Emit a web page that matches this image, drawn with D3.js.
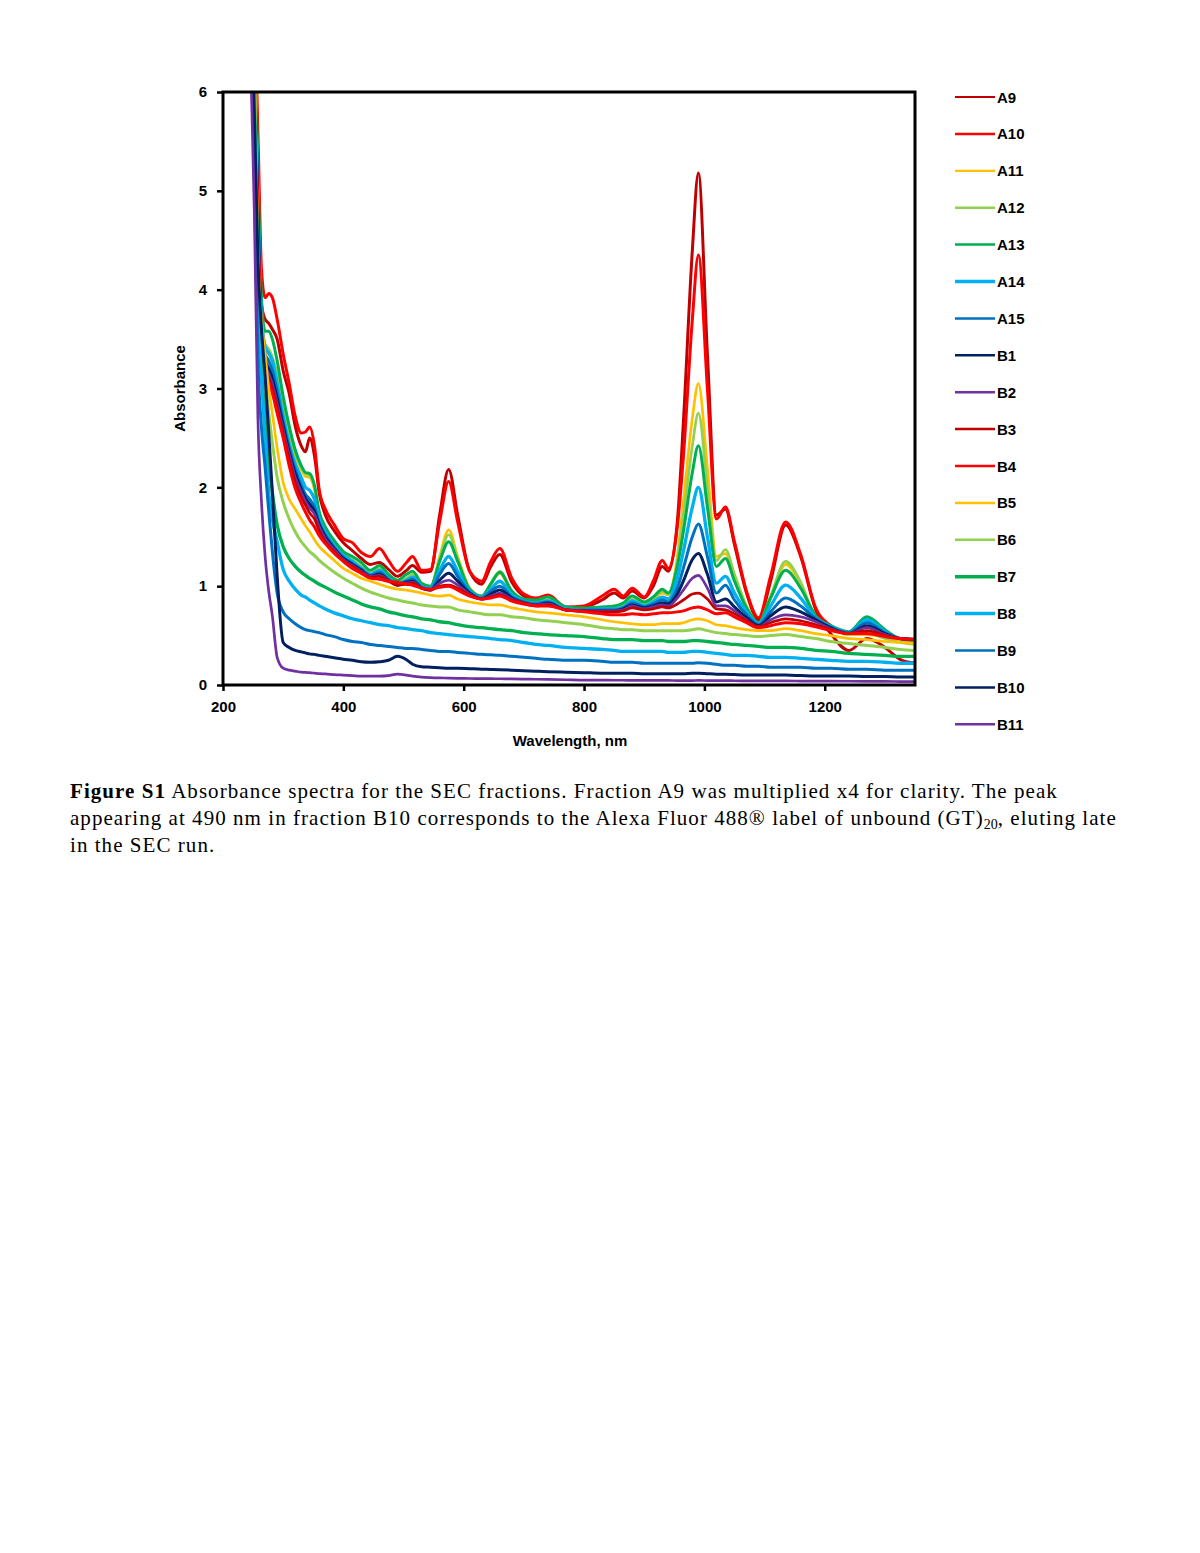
<!DOCTYPE html>
<html>
<head>
<meta charset="utf-8">
<script src="https://cdn.jsdelivr.net/npm/d3@7"></script>
<style>
  body { margin: 0; background: #fff; }
  .tick text { font-family: "Liberation Sans", Arial, sans-serif; font-weight: bold; font-size: 15px; }
</style>
</head>
<body>
<div class="container"></div>
<script>
const W = 1200
const H = 1553

// wavelength grid, nm (shared by all spectra)
const wavelengths = [
  245, 252, 258, 264, 270, 276, 282, 290, 300, 310,
  320, 330, 337, 344, 352, 360, 370, 385, 400, 415,
  430, 445, 460, 475, 490, 505, 515, 530, 545, 560,
  575, 590, 610, 630, 645, 660, 680, 700, 720, 740,
  770, 800, 830, 850, 865, 880, 900, 915, 930, 940,
  955, 965, 980, 990, 1005, 1020, 1035, 1050, 1070, 1090,
  1110, 1135, 1160, 1185, 1210, 1240, 1270, 1300, 1325, 1350
]

const a9 = [
  7.0, 6.6, 5.0, 3.85, 3.7, 3.66, 3.6, 3.5, 3.18, 2.95,
  2.62, 2.42, 2.36, 2.5, 2.32, 1.94, 1.72, 1.56, 1.44, 1.36,
  1.28, 1.22, 1.24, 1.17, 1.1, 1.16, 1.21, 1.14, 1.15, 1.72,
  2.18, 1.72, 1.15, 1.02, 1.2, 1.32, 1.04, 0.9, 0.86, 0.9,
  0.78, 0.79, 0.86, 0.93, 0.88, 0.95, 0.88, 1.0, 1.2, 1.15,
  1.65, 2.65, 4.4, 5.18, 3.35, 1.72, 1.78, 1.42, 0.93, 0.66,
  1.05, 1.62, 1.3, 0.76, 0.52, 0.35, 0.47, 0.38, 0.26, 0.22
]
const a10 = [
  7.0, 6.8, 5.6, 4.2, 3.92, 3.96, 3.92, 3.7, 3.35, 3.05,
  2.72, 2.55, 2.56, 2.61, 2.42, 1.97, 1.78, 1.62, 1.48, 1.44,
  1.34, 1.3, 1.38, 1.26, 1.15, 1.24, 1.3, 1.16, 1.17, 1.65,
  2.06, 1.65, 1.15, 1.05, 1.25, 1.38, 1.08, 0.92, 0.88, 0.91,
  0.79, 0.8, 0.9, 0.97, 0.9, 0.98, 0.89, 1.05, 1.26, 1.18,
  1.6, 2.3, 3.7, 4.35, 3.0, 1.68, 1.8, 1.45, 0.95, 0.68,
  1.1, 1.65, 1.32, 0.78, 0.6, 0.52, 0.52, 0.49, 0.47, 0.46
]
const a11 = [
  7.0, 6.6, 5.0, 3.75, 3.4, 3.35, 3.28, 3.1, 2.82, 2.52,
  2.32, 2.18, 2.11, 2.1, 1.98, 1.72, 1.57, 1.43, 1.32, 1.26,
  1.19, 1.12, 1.17, 1.09, 1.03, 1.07, 1.11, 1.01, 0.99, 1.3,
  1.57, 1.3, 0.98, 0.9, 1.02, 1.13, 0.93, 0.86, 0.84, 0.86,
  0.77, 0.77, 0.78, 0.79, 0.8, 0.86, 0.81, 0.86, 0.93, 0.91,
  1.3, 1.85, 2.7, 3.05, 2.2, 1.3, 1.33, 1.1, 0.79, 0.62,
  0.88, 1.22, 1.02, 0.67, 0.57, 0.51, 0.51, 0.48, 0.45, 0.44
]
const a12 = [
  7.0, 6.6, 5.0, 3.8, 3.45, 3.4, 3.32, 3.15, 2.85, 2.55,
  2.35, 2.2, 2.14, 2.12, 2.0, 1.74, 1.58, 1.44, 1.33, 1.27,
  1.2, 1.13, 1.18, 1.1, 1.04, 1.08, 1.12, 1.02, 0.99, 1.28,
  1.52, 1.28, 0.97, 0.9, 1.03, 1.15, 0.94, 0.86, 0.84, 0.86,
  0.77, 0.77, 0.78, 0.79, 0.81, 0.87, 0.82, 0.87, 0.95, 0.92,
  1.25, 1.7, 2.42, 2.75, 2.0, 1.26, 1.37, 1.12, 0.8, 0.63,
  0.9, 1.25, 1.04, 0.68, 0.58, 0.51, 0.53, 0.47, 0.43, 0.41
]
const a13 = [
  7.0, 6.6, 5.2, 3.9, 3.58, 3.58, 3.5, 3.28, 2.92, 2.62,
  2.38, 2.22, 2.15, 2.14, 2.02, 1.75, 1.6, 1.46, 1.35, 1.3,
  1.24, 1.16, 1.21, 1.12, 1.06, 1.12, 1.15, 1.03, 1.0, 1.25,
  1.45, 1.25, 0.97, 0.9, 1.02, 1.14, 0.95, 0.87, 0.86, 0.89,
  0.79, 0.78, 0.79, 0.8, 0.83, 0.9, 0.84, 0.89, 0.97, 0.93,
  1.2, 1.55, 2.15, 2.42, 1.8, 1.2, 1.28, 1.05, 0.78, 0.63,
  0.88, 1.16, 0.98, 0.7, 0.6, 0.54, 0.69, 0.56, 0.47, 0.45
]
const a14 = [
  7.0, 6.5, 4.9, 3.7, 3.42, 3.36, 3.28, 3.05, 2.72, 2.44,
  2.24, 2.1, 2.0, 1.97, 1.88, 1.68, 1.55, 1.41, 1.31, 1.25,
  1.18, 1.12, 1.16, 1.08, 1.03, 1.06, 1.09, 1.0, 0.98, 1.16,
  1.3, 1.15, 0.95, 0.89, 0.97, 1.05, 0.91, 0.85, 0.83, 0.85,
  0.77, 0.76, 0.77, 0.77, 0.79, 0.85, 0.8, 0.84, 0.89, 0.87,
  1.08, 1.35, 1.8, 2.0, 1.5, 1.03, 1.1, 0.93, 0.74, 0.62,
  0.8, 1.01, 0.88, 0.68, 0.59, 0.53, 0.66, 0.54, 0.47, 0.46
]
const a15 = [
  7.0, 6.4, 4.8, 3.65, 3.35, 3.28, 3.18, 2.97, 2.66, 2.4,
  2.18, 2.02, 1.93, 1.88, 1.8, 1.64, 1.52, 1.39, 1.29, 1.23,
  1.17, 1.11, 1.14, 1.07, 1.02, 1.05, 1.07, 0.99, 0.97, 1.12,
  1.23, 1.1, 0.94, 0.88, 0.95, 1.0, 0.89, 0.84, 0.82, 0.84,
  0.76, 0.76, 0.76, 0.76, 0.78, 0.83, 0.79, 0.82, 0.86, 0.84,
  0.98, 1.18, 1.5, 1.63, 1.3, 0.93, 1.01, 0.86, 0.71, 0.61,
  0.74, 0.88, 0.8, 0.67, 0.58, 0.53, 0.63, 0.53, 0.47, 0.46
]
const b1 = [
  7.0, 6.4, 4.8, 3.6, 3.3, 3.2, 3.1, 2.9, 2.62, 2.36,
  2.14, 1.98, 1.89, 1.83, 1.76, 1.62, 1.5, 1.38, 1.28, 1.22,
  1.16, 1.1, 1.12, 1.06, 1.01, 1.04, 1.05, 0.98, 0.96, 1.06,
  1.13, 1.05, 0.93, 0.87, 0.92, 0.96, 0.88, 0.83, 0.81, 0.83,
  0.76, 0.75, 0.75, 0.75, 0.77, 0.81, 0.78, 0.8, 0.83, 0.82,
  0.92, 1.05, 1.27, 1.33, 1.12, 0.84, 0.87, 0.79, 0.68, 0.6,
  0.7, 0.79, 0.74, 0.66, 0.58, 0.52, 0.6, 0.52, 0.47, 0.46
]
const b2 = [
  7.0, 6.3, 4.7, 3.55, 3.25, 3.15, 3.05, 2.85, 2.58, 2.33,
  2.1, 1.95, 1.86, 1.79, 1.73, 1.6, 1.48, 1.37, 1.27, 1.21,
  1.15, 1.1, 1.11, 1.06, 1.01, 1.03, 1.04, 0.98, 0.96, 1.03,
  1.06, 1.01, 0.92, 0.87, 0.9, 0.93, 0.87, 0.83, 0.81, 0.82,
  0.76, 0.75, 0.75, 0.75, 0.76, 0.8, 0.77, 0.79, 0.81, 0.8,
  0.88, 0.96, 1.08, 1.11, 0.98, 0.8, 0.8, 0.75, 0.66, 0.59,
  0.66, 0.71, 0.69, 0.64, 0.57, 0.52, 0.58, 0.51, 0.47, 0.46
]
const b3 = [
  7.0, 6.3, 4.7, 3.5, 3.2, 3.1, 3.0, 2.8, 2.54, 2.28,
  2.05, 1.9, 1.82, 1.74, 1.68, 1.56, 1.45, 1.35, 1.26, 1.2,
  1.14, 1.09, 1.1, 1.05, 1.01, 1.02, 1.03, 0.98, 0.96, 1.0,
  1.01, 0.98, 0.91, 0.87, 0.89, 0.91, 0.86, 0.83, 0.8, 0.81,
  0.76, 0.75, 0.74, 0.74, 0.75, 0.78, 0.76, 0.77, 0.79, 0.78,
  0.82, 0.86, 0.92, 0.93, 0.87, 0.77, 0.76, 0.72, 0.65, 0.59,
  0.63, 0.67, 0.65, 0.61, 0.56, 0.52, 0.55, 0.5, 0.47, 0.46
]
const b4 = [
  7.0, 6.2, 4.6, 3.45, 3.15, 3.05, 2.95, 2.75, 2.5, 2.22,
  1.99, 1.84, 1.75, 1.67, 1.6, 1.51, 1.43, 1.33, 1.25, 1.18,
  1.13, 1.08, 1.07, 1.05, 1.04, 1.02, 1.01, 0.98, 0.97, 0.99,
  1.0, 0.96, 0.9, 0.87, 0.88, 0.9, 0.85, 0.82, 0.8, 0.8,
  0.76, 0.74, 0.72, 0.71, 0.71, 0.72, 0.71, 0.72, 0.73, 0.73,
  0.74, 0.75, 0.78, 0.79, 0.76, 0.72, 0.73, 0.69, 0.63, 0.58,
  0.6, 0.63, 0.62, 0.59, 0.55, 0.52, 0.52, 0.49, 0.47, 0.46
]
const b5 = [
  6.6, 6.3, 4.4, 3.7, 3.35, 3.0, 2.75, 2.4, 2.05, 1.88,
  1.78, 1.68, 1.61, 1.55, 1.47, 1.4, 1.34, 1.26, 1.18, 1.13,
  1.08, 1.05, 1.02, 0.99, 0.97, 0.96, 0.95, 0.93, 0.91, 0.9,
  0.91, 0.87, 0.84, 0.82, 0.81, 0.81, 0.78, 0.76, 0.74, 0.73,
  0.71, 0.69, 0.66, 0.64, 0.63, 0.62, 0.61, 0.61, 0.62, 0.62,
  0.62, 0.63, 0.66, 0.67, 0.65, 0.61, 0.6, 0.58, 0.56, 0.55,
  0.55, 0.57, 0.55, 0.52, 0.5, 0.47, 0.46, 0.44, 0.43, 0.42
]
const b6 = [
  6.6, 6.2, 4.2, 3.5, 3.1, 2.75, 2.45, 2.1, 1.85, 1.68,
  1.55, 1.45, 1.4, 1.35, 1.31, 1.26, 1.21, 1.14, 1.08, 1.03,
  0.98, 0.94, 0.91, 0.88, 0.86, 0.84, 0.83, 0.81, 0.8, 0.79,
  0.79, 0.76, 0.74, 0.72, 0.71, 0.71, 0.69, 0.68, 0.66, 0.65,
  0.63, 0.61, 0.58, 0.57, 0.56, 0.56, 0.55, 0.55, 0.55, 0.55,
  0.55, 0.55, 0.56, 0.57, 0.55, 0.53, 0.52, 0.51, 0.5, 0.49,
  0.5, 0.51, 0.49, 0.47, 0.44, 0.42, 0.4, 0.38, 0.36, 0.35
]
const b7 = [
  6.6, 6.0, 4.0, 3.2, 2.7, 2.25, 1.95, 1.62, 1.4, 1.28,
  1.2, 1.14, 1.11, 1.08, 1.05, 1.02, 0.99, 0.94, 0.9, 0.86,
  0.82, 0.79, 0.77, 0.74, 0.72, 0.7, 0.69, 0.67, 0.66, 0.64,
  0.63, 0.61, 0.59, 0.58, 0.57, 0.56, 0.55, 0.53, 0.52, 0.51,
  0.5, 0.49, 0.47, 0.46, 0.46, 0.46, 0.45, 0.45, 0.45, 0.44,
  0.44, 0.44, 0.45, 0.45, 0.44, 0.43, 0.42, 0.41, 0.4, 0.39,
  0.38, 0.38, 0.37, 0.35, 0.34, 0.32, 0.31, 0.3, 0.29, 0.29
]
const b8 = [
  6.6, 5.8, 3.8, 3.1, 2.5, 1.95, 1.68, 1.45, 1.17, 1.05,
  0.97, 0.91, 0.89, 0.86, 0.83, 0.8, 0.77, 0.73, 0.7, 0.67,
  0.65, 0.63, 0.61, 0.6, 0.58, 0.57, 0.56, 0.55, 0.53, 0.52,
  0.51, 0.5, 0.49, 0.48, 0.47, 0.46, 0.45, 0.43, 0.41, 0.4,
  0.38, 0.37, 0.36, 0.35, 0.34, 0.34, 0.34, 0.34, 0.34, 0.33,
  0.33, 0.33, 0.34, 0.34, 0.33, 0.32, 0.31, 0.3, 0.3, 0.29,
  0.28, 0.28, 0.27, 0.26, 0.25, 0.24, 0.24, 0.23, 0.22, 0.22
]
const b9 = [
  6.6, 5.2, 3.3, 2.6, 2.2, 1.76, 1.35, 0.93, 0.74, 0.67,
  0.62, 0.58, 0.56, 0.55, 0.54, 0.53, 0.51, 0.49, 0.46, 0.44,
  0.43, 0.41, 0.4, 0.39, 0.38, 0.37, 0.37, 0.36, 0.35, 0.34,
  0.34, 0.33, 0.32, 0.31, 0.305, 0.3, 0.29, 0.28, 0.27, 0.26,
  0.25, 0.25, 0.24, 0.23, 0.23, 0.23, 0.22, 0.22, 0.22, 0.22,
  0.22, 0.22, 0.22, 0.225, 0.22, 0.21, 0.2, 0.2, 0.19, 0.19,
  0.18, 0.18, 0.18, 0.17, 0.17, 0.16, 0.16, 0.15, 0.15, 0.15
]
const b10 = [
  6.6, 5.8, 4.3, 3.6, 3.12, 2.55, 1.95, 1.1, 0.43, 0.38,
  0.35, 0.335, 0.325, 0.315, 0.31, 0.3, 0.29, 0.275, 0.26, 0.25,
  0.235, 0.23, 0.235, 0.25, 0.29, 0.255, 0.21, 0.185, 0.18, 0.175,
  0.17, 0.17, 0.165, 0.16, 0.158, 0.155, 0.15, 0.145, 0.14, 0.135,
  0.13, 0.125, 0.12, 0.12, 0.12, 0.12, 0.115, 0.115, 0.115, 0.115,
  0.115, 0.115, 0.12, 0.12, 0.115, 0.11, 0.11, 0.105, 0.1, 0.1,
  0.1, 0.1, 0.095, 0.09, 0.09, 0.09, 0.085, 0.085, 0.08, 0.08
]
const b11 = [
  6.6, 4.8, 2.7, 1.85, 1.3, 0.95, 0.7, 0.28, 0.17, 0.15,
  0.14, 0.13, 0.128, 0.125, 0.12, 0.115, 0.112, 0.105, 0.1, 0.095,
  0.09, 0.09, 0.09, 0.095, 0.11, 0.1, 0.09, 0.08, 0.075, 0.072,
  0.07, 0.068, 0.066, 0.065, 0.064, 0.063, 0.062, 0.06, 0.058, 0.056,
  0.053, 0.05, 0.05, 0.048, 0.048, 0.047, 0.047, 0.046, 0.046, 0.046,
  0.045, 0.045, 0.045, 0.046, 0.045, 0.044, 0.044, 0.043, 0.042, 0.042,
  0.041, 0.041, 0.04, 0.04, 0.039, 0.038, 0.037, 0.036, 0.035, 0.035
]

const seriesNames = ['A9', 'A10', 'A11', 'A12', 'A13', 'A14', 'A15', 'B1', 'B2',
  'B3', 'B4', 'B5', 'B6', 'B7', 'B8', 'B9', 'B10', 'B11']
const seriesValues = [a9, a10, a11, a12, a13, a14, a15, b1, b2,
  b3, b4, b5, b6, b7, b8, b9, b10, b11]
const yTicks = [0, 1, 2, 3, 4, 5, 6]
const xTicks = [200, 400, 600, 800, 1000, 1200]

const colors = ['#C00000', '#FF0000', '#FFC000', '#92D050', '#00B050', '#00B0F0', '#0070C0', '#002060', '#7030A0',
  '#C00000', '#FF0000', '#FFC000', '#92D050', '#00B050', '#00B0F0', '#0070C0', '#002060', '#7030A0']
const widths = [3, 3, 2.7, 2.7, 3, 3.3, 3, 3, 2.7, 2.7, 3, 2.7, 3, 3.3, 3.3, 3, 3, 2.7]
const legendWidths = [2.2, 2.5, 2.2, 2.5, 2.5, 3.5, 2.5, 2.5, 2.5, 2.5, 2.5, 2.5, 2.5, 3.5, 3.5, 2.5, 2.5, 2.5]

const plotL = 223, plotR = 915, plotT = 92, plotB = 685

const svg = d3.select('.container')
  .append('svg')
  .attr('width', W)
  .attr('height', H)
  .style('display', 'block')

const xScale = d3.scaleLinear().domain([200, 1350]).range([plotL, plotR])
const yScale = d3.scaleLinear().domain([0, 6]).range([plotB, plotT])

svg.append('clipPath').attr('id', 'plot')
  .append('rect')
  .attr('x', plotL).attr('y', plotT)
  .attr('width', plotR - plotL).attr('height', plotB - plotT)

// spectra
const line = d3.line()
  .x((d, i) => xScale(wavelengths[i]))
  .y(d => yScale(d))
  .curve(d3.curveMonotoneX)

svg.append('g')
  .attr('clip-path', 'url(#plot)')
  .selectAll('path')
  .data(seriesValues)
  .enter()
  .append('path')
  .attr('d', d => line(d))
  .attr('fill', 'none')
  .attr('stroke', (d, i) => colors[i])
  .attr('stroke-width', (d, i) => widths[i])
  .attr('stroke-linejoin', 'round')

// frame
svg.append('rect')
  .attr('x', plotL).attr('y', plotT)
  .attr('width', plotR - plotL).attr('height', plotB - plotT)
  .attr('fill', 'none')
  .attr('stroke', '#000')
  .attr('stroke-width', 3)

// axes
const xAxis = d3.axisBottom(xScale).tickValues(xTicks).tickSize(6).tickPadding(10)
  .tickFormat(d3.format('d'))
svg.append('g')
  .attr('transform', 'translate(0,' + plotB + ')')
  .call(xAxis)
  .call(g => g.select('.domain').remove())
  .call(g => g.selectAll('.tick line').attr('stroke-width', 2.5))

const yAxis = d3.axisLeft(yScale).tickValues(yTicks).tickSize(6).tickPadding(10)
  .tickFormat(d3.format('d'))
svg.append('g')
  .attr('transform', 'translate(' + plotL + ',0)')
  .call(yAxis)
  .call(g => g.select('.domain').remove())
  .call(g => g.selectAll('.tick line').attr('stroke-width', 2.5))

svg.append('text')
  .text('Absorbance')
  .attr('transform', 'translate(185,' + ((plotT + plotB) / 2) + ') rotate(-90)')
  .attr('text-anchor', 'middle')
  .style('font-family', '"Liberation Sans", Arial, sans-serif')
  .style('font-weight', 'bold')
  .style('font-size', '15px')

svg.append('text')
  .text('Wavelength, nm')
  .attr('x', 570)
  .attr('y', 746)
  .attr('text-anchor', 'middle')
  .style('font-family', '"Liberation Sans", Arial, sans-serif')
  .style('font-weight', 'bold')
  .style('font-size', '15px')

// legend
const legend = svg.append('g')
  .selectAll('g')
  .data(seriesNames)
  .enter()
  .append('g')
  .attr('transform', (d, i) => 'translate(955,' + (97 + i * 36.9) + ')')

legend.append('line')
  .attr('x1', 0).attr('x2', 40)
  .attr('stroke', (d, i) => colors[i])
  .attr('stroke-width', (d, i) => legendWidths[i])

legend.append('text')
  .text(d => d)
  .attr('x', 42)
  .attr('y', 5.5)
  .style('font-family', '"Liberation Sans", Arial, sans-serif')
  .style('font-weight', 'bold')
  .style('font-size', '15px')

// caption
const caption = svg.append('g')
  .style('font-family', '"Liberation Serif", "Times New Roman", serif')
  .style('font-size', '21px')
  .style('letter-spacing', '1.05px')

const l1 = caption.append('text').attr('x', 70).attr('y', 798)
l1.append('tspan').text('Figure S1').style('font-weight', 'bold')
l1.append('tspan').text(' Absorbance spectra for the SEC fractions. Fraction A9 was multiplied x4 for clarity. The peak')

const l2 = caption.append('text').attr('x', 70).attr('y', 825)
l2.append('tspan').text('appearing at 490 nm in fraction B10 corresponds to the Alexa Fluor 488® label of unbound (GT)')
l2.append('tspan').text('20').attr('dy', 4).style('font-size', '14px').style('letter-spacing', '0px')
l2.append('tspan').text(', eluting late').attr('dy', -4)

caption.append('text').attr('x', 70).attr('y', 852).text('in the SEC run.')
</script>
</body>
</html>
